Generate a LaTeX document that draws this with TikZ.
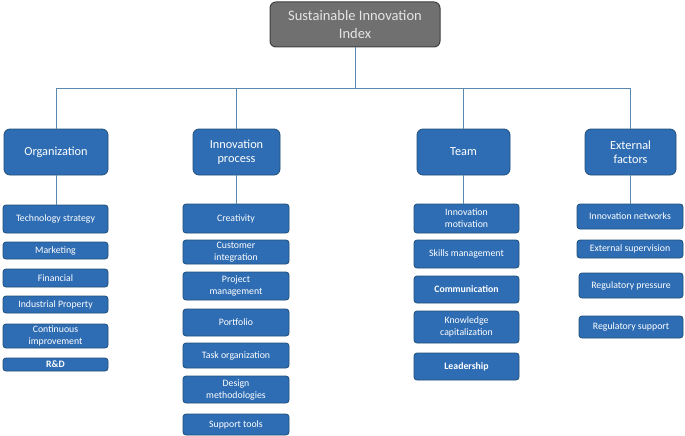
\documentclass[tikz,border=0pt]{standalone}
\usepackage{fontspec}
\setmainfont{Carlito}
\usepackage{tikz}
\usetikzlibrary{positioning}
\definecolor{boxblue}{HTML}{2E6DB4}
\definecolor{boxline}{HTML}{1F4E79}
\definecolor{linkblue}{HTML}{5A88AE}
\definecolor{rootfill}{HTML}{707070}

\begin{document}
\begin{tikzpicture}[x=1pt,y=-1pt,
    rootbox/.style={draw=black!75, fill=rootfill, text=white!90!black, line width=1pt,
      rounded corners=6pt, align=center, inner sep=0pt,
      font=\fontsize{14.5}{17.5}\selectfont},
    catbox/.style={draw=boxline, fill=boxblue, text=white, line width=0.8pt,
      rounded corners=6pt, align=center, inner sep=0pt, minimum height=46,
      font=\fontsize{12.3}{14}\selectfont},
    subbox/.style={draw=boxline, fill=boxblue, text=white, line width=0.8pt,
      rounded corners=3pt, align=center, inner sep=0pt,
      font=\fontsize{9.8}{12}\selectfont},
    link/.style={draw=linkblue, line width=0.8pt}]
  \useasboundingbox (0,0) rectangle (685,436);

  \node[rootbox, minimum width=170, minimum height=45] (sii) at (355,24.5) {Sustainable Innovation\\Index};

  % main groups
  \node[catbox, minimum width=104] (org) at (56,152) {Organization};
  \node[catbox, minimum width=87] (proc) at (236.5,152) {Innovation\\process};
  \node[catbox, minimum width=93] (team) at (463.5,152) {Team};
  \node[catbox, minimum width=91] (ext) at (630.5,152) {External\\factors};

  % organization
  \node[subbox, minimum width=105, minimum height=28] (tech) at (55.5,219) {Technology strategy};
  \node[subbox, minimum width=105, minimum height=17] (mark) at (55.5,250.5) {Marketing};
  \node[subbox, minimum width=105, minimum height=18] (fin) at (55.5,278) {Financial};
  \node[subbox, minimum width=105, minimum height=17] (indp) at (55.5,304.5) {Industrial Property};
  \node[subbox, minimum width=105, minimum height=24] (cont) at (55.5,336) {Continuous\\improvement};
  \node[subbox, minimum width=105, minimum height=13] (rd) at (55.5,364.5) {\bfseries R\&D};

  % innovation process
  \node[subbox, minimum width=106, minimum height=29] (crea) at (236,218.5) {Creativity};
  \node[subbox, minimum width=106, minimum height=24] (cust) at (236,252) {Customer\\integration};
  \node[subbox, minimum width=106, minimum height=28] (pm) at (236,286) {Project\\management};
  \node[subbox, minimum width=106, minimum height=27] (port) at (236,322.5) {Portfolio};
  \node[subbox, minimum width=106, minimum height=25] (task) at (236,355.5) {Task organization};
  \node[subbox, minimum width=106, minimum height=27] (dm) at (236,389.5) {Design\\methodologies};
  \node[subbox, minimum width=106, minimum height=21] (sup) at (236,424.5) {Support tools};

  % team
  \node[subbox, minimum width=105, minimum height=29] (mot) at (466.5,218.5) {Innovation\\motivation};
  \node[subbox, minimum width=105, minimum height=28] (skill) at (466.5,254) {Skills management};
  \node[subbox, minimum width=105, minimum height=27] (comm) at (466.5,289.5) {\bfseries Communication};
  \node[subbox, minimum width=105, minimum height=32] (know) at (466.5,327) {Knowledge\\capitalization};
  \node[subbox, minimum width=105, minimum height=27] (lead) at (466.5,366.5) {\bfseries Leadership};

  % external factors
  \node[subbox, minimum width=106, minimum height=25] (net) at (630,216.5) {Innovation networks};
  \node[subbox, minimum width=106, minimum height=18] (supv) at (630,249) {External supervision};
  \node[subbox, minimum width=104, minimum height=25] (press) at (631,285.5) {Regulatory pressure};
  \node[subbox, minimum width=104, minimum height=22] (supp) at (631,327) {Regulatory support};

  % connectors
  \coordinate (bus) at (355,88);
  \draw[link] (sii.south) -- (bus);
  \foreach \g in {org,proc,team,ext}
    \draw[link] (bus) -| (\g.north);
  \draw[link] (org.south) -- (org.south |- tech.north);
  \draw[link] (proc.south) -- (proc.south |- crea.north);
  \draw[link] (team.south) -- (team.south |- mot.north);
  \draw[link] (ext.south) -- (ext.south |- net.north);
\end{tikzpicture}
\end{document}
